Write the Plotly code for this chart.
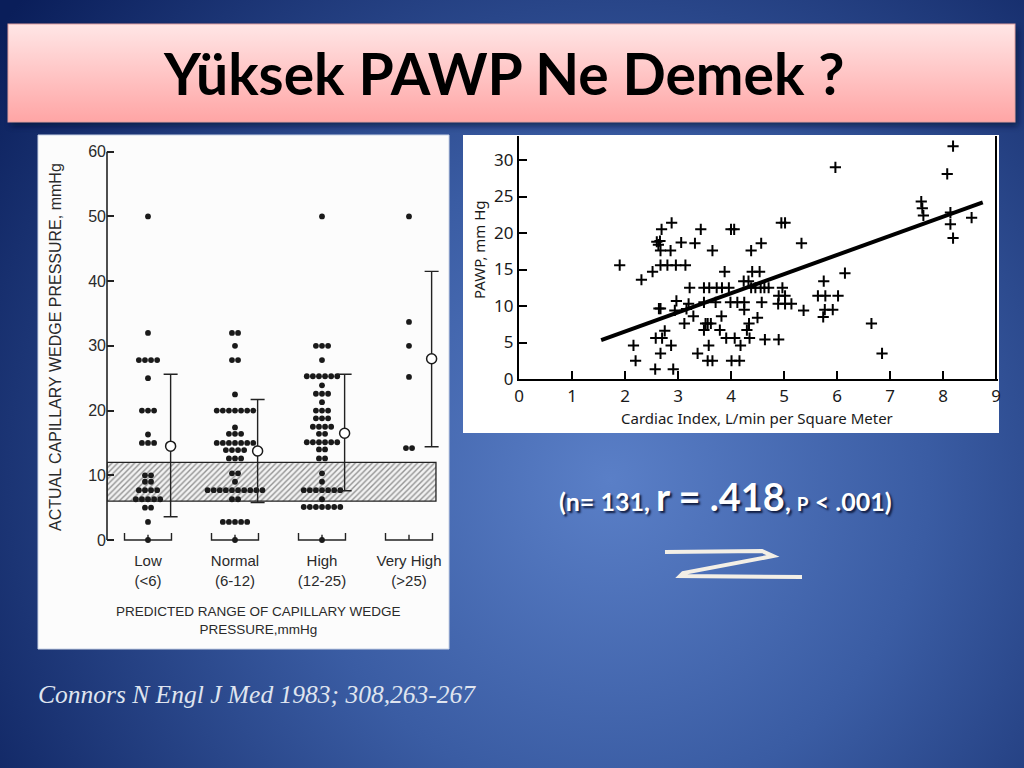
import base64
import plotly.graph_objects as go

W, H = 1024, 768

# ---- left chart: actual vs predicted wedge pressure (dot plot) ----
groups = ["Low<br>(<6)", "Normal<br>(6-12)", "High<br>(12-25)", "Very High<br>(>25)"]

low_y = [50, 32, 27.8, 25, 20, 16.3, 15, 10, 9, 7.7, 6.3, 5, 2.8, 0]
low_n = [1, 1, 4, 1, 3, 1, 3, 2, 2, 4, 5, 2, 1, 1]
normal_y = [32, 30, 27.8, 22.5, 20, 17.4, 16.4, 15, 13.9, 12.6, 10.3, 9, 7.7, 6.3, 2.8, 0]
normal_n = [2, 1, 2, 1, 7, 1, 3, 7, 4, 3, 2, 1, 10, 2, 5, 1]
high_y = [50, 30, 27.8, 25.3, 23.9, 22.6, 21.3, 20, 18.8, 17.5, 16.4, 15.1, 14, 12.6,
          10.3, 9, 7.7, 6.3, 5.1, 0]
high_n = [1, 3, 1, 6, 1, 3, 1, 3, 3, 4, 2, 6, 2, 2, 1, 1, 7, 1, 7, 1]
vhigh_y = [50, 33.7, 30, 25.2, 14.2]
vhigh_n = [1, 1, 1, 1, 2]

group_mean = [14.5, 13.75, 16.5, 28.0]
group_upper = [25.6, 21.7, 25.6, 41.5]
group_lower = [3.6, 5.8, 7.6, 14.4]

normal_band = [6, 12]

# ---- right chart: PAWP vs cardiac index ----
ci = [1.90, 2.16, 2.20, 2.31, 2.52, 2.57, 2.60, 2.63, 2.66, 2.64, 2.67, 2.58, 2.70, 2.75,
      2.67, 2.69, 2.67, 2.86, 2.67, 2.80, 2.96, 3.14, 2.88, 2.87, 2.91, 2.97, 2.94, 3.06,
      3.12, 3.20, 3.22, 3.16, 3.29, 3.32, 3.43, 3.37, 3.49, 3.59, 3.73, 3.83, 3.96, 3.49,
      3.52, 3.56, 3.62, 3.49, 3.56, 3.65, 3.58, 3.65, 3.71, 3.79, 3.82, 3.88, 3.91, 4.07,
      4.00, 4.06, 4.01, 4.16, 3.99, 4.12, 4.18, 4.24, 4.33, 4.25, 4.25, 4.34, 4.30, 4.35,
      4.38, 4.40, 4.54, 4.38, 4.46, 4.56, 4.63, 4.71, 4.57, 4.58, 4.50, 4.64, 4.90, 4.95,
      5.02, 4.97, 4.90, 5.02, 4.89, 5.02, 5.14, 5.33, 5.37, 5.75, 5.64, 5.78, 6.02, 5.77,
      5.92, 5.74, 5.97, 6.15, 6.65, 6.85, 7.59, 7.61, 7.63, 8.08, 8.19, 8.14, 8.14, 8.19,
      8.54]
pawp = [15.6, 4.6, 2.5, 13.6, 14.7, 1.35, 18.8, 18.4, 18.9, 9.65, 9.65, 5.6, 5.6, 6.6,
        3.5, 20.5, 17.6, 17.6, 15.6, 15.6, 15.6, 15.6, 21.4, 4.6, 1.35, 10.7, 9.4, 18.7,
        7.6, 10.3, 12.5, 9.6, 8.6, 18.6, 20.5, 3.5, 12.5, 12.5, 12.5, 12.5, 12.5, 10.5,
        7.6, 7.6, 7.6, 6.7, 2.5, 2.5, 4.6, 17.6, 10.5, 6.7, 8.6, 14.7, 5.6, 5.6,
        20.5, 20.5, 2.5, 2.5, 10.5, 10.5, 4.6, 13.4, 13.4, 10.5, 9.5, 7.6, 6.7, 5.6,
        17.6, 14.7, 14.7, 12.5, 12.5, 12.5, 12.5, 12.5, 18.6, 10.5, 8.4, 5.4, 5.4, 21.4,
        21.4, 12.5, 11.4, 11.4, 10.3, 10.3, 10.3, 18.6, 9.4, 13.4, 11.4, 11.4, 11.4, 9.5,
        9.5, 8.5, 29.0, 14.5, 7.6, 3.5, 24.3, 23.4, 22.4, 28.1, 31.9, 22.8, 21.2, 19.3,
        22.1]
fit_x = [1.55, 8.75]
fit_slope = 2.62
fit_intercept = 1.27


def px(x):
    return x / W


def py(y):
    return 1 - y / H


def swarm(center, values, counts, step=0.07):
    xs, ys = [], []
    for v, n in zip(values, counts):
        for i in range(n):
            xs.append(center + (i - (n - 1) / 2) * step)
            ys.append(v)
    return xs, ys


# slide background + title box as an svg image
bg_svg = """<svg xmlns="http://www.w3.org/2000/svg" width="1024" height="768" viewBox="0 0 1024 768">
<defs>
<radialGradient id="g" cx="610" cy="480" r="760" gradientUnits="userSpaceOnUse">
<stop offset="0" stop-color="#5a7fc7"/>
<stop offset="0.42" stop-color="#3a5ca3"/>
<stop offset="1" stop-color="#0a1e5a"/>
</radialGradient>
<linearGradient id="p" x1="0" y1="0" x2="0" y2="1">
<stop offset="0" stop-color="#ffe6e6"/>
<stop offset="1" stop-color="#ffa5a5"/>
</linearGradient>
<filter id="s" x="-5%" y="-20%" width="110%" height="140%"><feGaussianBlur stdDeviation="3"/></filter>
</defs>
<rect width="1024" height="768" fill="url(#g)"/>
<rect x="11" y="28" width="1007" height="98" fill="#000a30" opacity="0.6" filter="url(#s)"/>
<rect x="8" y="24" width="1007" height="98" fill="url(#p)" stroke="#e0a0a0" stroke-width="1"/>
</svg>"""
bg_uri = "data:image/svg+xml;base64," + base64.b64encode(bg_svg.encode()).decode()

fig = go.Figure()

# left chart scales: x=1 at 148px, 87px per group; y=0 at 540px, 6.472px per mmHg
lx0 = 1 - 41 / 87
lx1 = 1 + 292 / 87
ly0 = -10 / 6.472
ly1 = 400 / 6.472
centers = [1, 2, 3, 4]

fig.add_trace(go.Scatter(
    x=[lx0, 4.31, 4.31, lx0, lx0],
    y=[normal_band[0], normal_band[0], normal_band[1], normal_band[1], normal_band[0]],
    fill="toself", mode="lines",
    line=dict(color="#222", width=1.3),
    fillcolor="rgba(0,0,0,0)",
    fillpattern=dict(shape="/", size=4, solidity=0.35, fgcolor="#333", bgcolor="#f2f2f2"),
    xaxis="x", yaxis="y", hoverinfo="skip", showlegend=False,
))

# brackets under each group
half = 0.27
for c in centers:
    fig.add_trace(go.Scatter(
        x=[c - half, c - half, c + half, c + half, None, c, c],
        y=[1.1, 0, 0, 1.1, None, 0, 0.8],
        mode="lines", line=dict(color="#222", width=1.4),
        xaxis="x", yaxis="y", hoverinfo="skip", showlegend=False,
    ))

all_x, all_y = [], []
for c, vals, cnts in zip(centers, [low_y, normal_y, high_y, vhigh_y],
                         [low_n, normal_n, high_n, vhigh_n]):
    gx, gy = swarm(c, vals, cnts)
    all_x += gx
    all_y += gy

fig.add_trace(go.Scatter(
    x=all_x, y=all_y, mode="markers",
    marker=dict(size=5.8, color="#1a1a1a"),
    xaxis="x", yaxis="y", showlegend=False, cliponaxis=False,
))

fig.add_trace(go.Scatter(
    x=[c + 0.26 for c in centers], y=group_mean, mode="markers",
    marker=dict(size=10, color="white", line=dict(color="#1a1a1a", width=1.5)),
    error_y=dict(type="data", symmetric=False,
                 array=[u - m for u, m in zip(group_upper, group_mean)],
                 arrayminus=[m - l for m, l in zip(group_mean, group_lower)],
                 color="#222", thickness=1.4, width=7),
    xaxis="x", yaxis="y", showlegend=False,
))

# right chart
fig.add_trace(go.Scatter(
    x=ci, y=pawp, mode="markers",
    marker=dict(symbol="cross-thin", size=8, color="black",
                line=dict(color="black", width=2)),
    xaxis="x2", yaxis="y2", showlegend=False, cliponaxis=False,
))
fig.add_trace(go.Scatter(
    x=fit_x, y=[fit_intercept + fit_slope * v for v in fit_x], mode="lines",
    line=dict(color="black", width=4),
    xaxis="x2", yaxis="y2", showlegend=False,
))

left_font = dict(family="Liberation Sans, Arial, sans-serif", color="#2a2a2a")
right_font = dict(family="Noto Sans, sans-serif", color="#1a1a1a")

fig.update_layout(
    width=W, height=H, autosize=False,
    margin=dict(l=0, r=0, t=0, b=0, autoexpand=False),
    paper_bgcolor="#2a4a90", plot_bgcolor="rgba(0,0,0,0)",
    images=[dict(source=bg_uri, xref="paper", yref="paper", x=0, y=1,
                 sizex=1, sizey=1, sizing="stretch", layer="below")],
    xaxis=dict(domain=[px(107), px(440)], range=[lx0, lx1], automargin=False,
               tickvals=centers, ticktext=groups, ticks="",
               showline=False, showgrid=False, zeroline=False,
               tickfont=dict(size=15, **left_font)),
    yaxis=dict(domain=[py(550), py(140)], range=[ly0, ly1], automargin=False,
               tickvals=[0, 10, 20, 30, 40, 50, 60], ticks="inside",
               ticklen=7, tickwidth=1.5, tickcolor="#222",
               showline=False, showgrid=False, zeroline=False,
               tickfont=dict(size=16, **left_font)),
    xaxis2=dict(domain=[px(519), px(998)], range=[0, 9.038], anchor="y2",
                automargin=False,
                tickvals=list(range(10)), ticks="inside", ticklen=8, tickwidth=2,
                tickcolor="black", showline=True, linecolor="black", linewidth=2.3,
                showgrid=False, zeroline=False,
                tickfont=dict(size=17, **right_font)),
    yaxis2=dict(domain=[py(379), py(136)], range=[0, 33.29], anchor="x2",
                automargin=False,
                tickvals=[0, 5, 10, 15, 20, 25, 30], ticks="inside", ticklen=8,
                tickwidth=2, tickcolor="black", showline=True, linecolor="black",
                linewidth=2.3, showgrid=False, zeroline=False,
                tickfont=dict(size=17, **right_font)),
)

# white panels holding the two figures
fig.add_shape(type="rect", xref="paper", yref="paper", layer="below",
              x0=px(38), x1=px(449), y0=py(649), y1=py(135),
              fillcolor="#fcfcfc", line=dict(color="#c9d3e6", width=1))
fig.add_shape(type="rect", xref="paper", yref="paper", layer="below",
              x0=px(463), x1=px(999), y0=py(433), y1=py(135),
              fillcolor="white", line=dict(width=0))
# left y axis line and right frame line
fig.add_shape(type="line", xref="x domain", yref="y", x0=0, x1=0, y0=0, y1=60,
              line=dict(color="#222", width=1.6))
fig.add_shape(type="line", xref="x2", yref="y2 domain", x0=9, x1=9, y0=0, y1=1,
              line=dict(color="black", width=2))

# hand drawn mark
squiggle = [(665, 552), (762, 551), (773, 556), (683, 573), (680, 576), (802, 577)]
path = "M " + " L ".join(f"{px(a):.4f},{py(b):.4f}" for a, b in squiggle)
fig.add_shape(type="path", xref="paper", yref="paper", path=path,
              line=dict(color="#f3efe6", width=4))

# titles and texts
def note(x, y, text, font, **kw):
    opts = dict(xanchor="center", yanchor="middle")
    opts.update(kw)
    fig.add_annotation(xref="paper", yref="paper", x=px(x), y=py(y), text=text,
                       showarrow=False, font=font, **opts)


note(504, 73, "<b>Yüksek PAWP Ne Demek ?</b>",
     dict(family="Lato, sans-serif", size=57, color="black"))
note(55, 347, "ACTUAL CAPILLARY WEDGE PRESSURE, mmHg", dict(size=16, **left_font),
     textangle=-90)
note(258, 620, "PREDICTED RANGE OF CAPILLARY WEDGE<br>PRESSURE,mmHg",
     dict(size=13.5, **left_font))
note(479, 250, "PAWP, mm Hg", dict(size=15, **right_font), textangle=-90)
note(757, 418, "Cardiac Index, L/min per Square Meter", dict(size=15, **right_font))
note(725, 496,
     "<b>(n= 131, <span style='font-size:38px'>r = .418</span>, "
     "<span style='font-size:19px'>P</span> &lt; .001)</b>",
     dict(family="Lato, sans-serif", size=25, color="white",
          shadow="2px 2px 2px #101c40"))
note(36, 694, "<i>Connors N Engl J Med 1983; 308,263-267</i>",
     dict(family="Liberation Serif, serif", size=25.5, color="#dfe4ef"), xanchor="left")

fig.write_html("out.html", config={"displayModeBar": False},
               post_script="document.body.style.margin='0px';")
